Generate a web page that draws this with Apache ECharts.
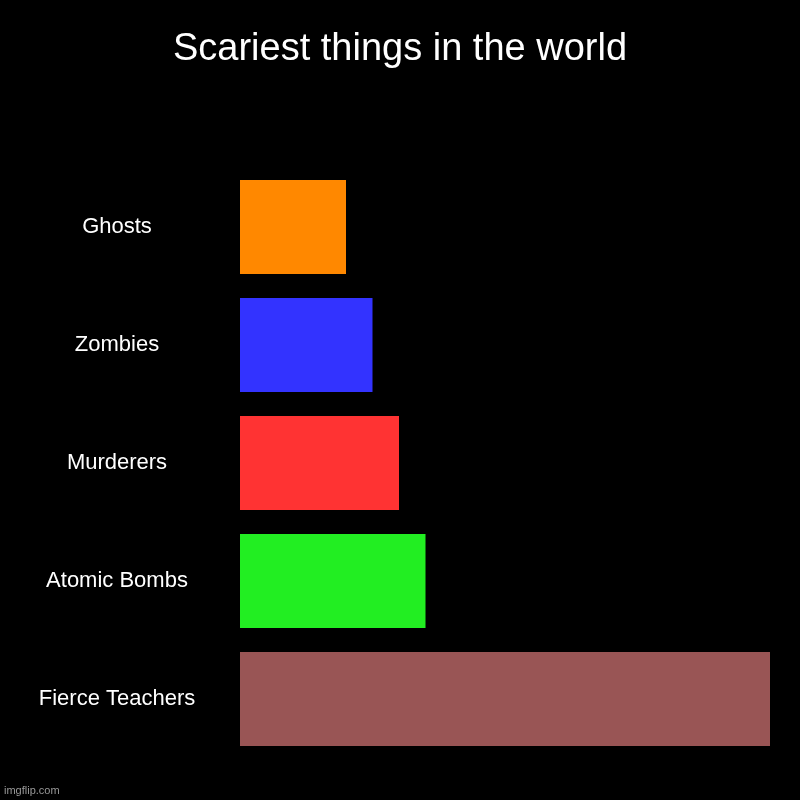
<!DOCTYPE html>
<html><head><meta charset="utf-8">
<script src="https://cdn.jsdelivr.net/npm/echarts@6/dist/echarts.min.js"></script>
<style>html,body{margin:0;padding:0;background:#000}#c{width:800px;height:800px}</style>
</head><body><div id="c"></div>
<script>
const categories = ["Ghosts", "Zombies", "Murderers", "Atomic Bombs", "Fierce Teachers"];
const values = [4, 5, 6, 7, 20];
const colors = ["#FF8800", "#3333FF", "#FF3333", "#22EE22", "#995555"];
const titleText = "Scariest things in the world";

const chart = echarts.init(document.getElementById('c'), null, {renderer: 'canvas'});
chart.setOption({
  backgroundColor: '#000000',
  animation: false,
  title: {
    text: titleText, left: 'center', top: 26, padding: [5, 17, 5, 5],
    textStyle: {color: '#ffffff', fontSize: 38, fontWeight: 'normal', fontFamily: 'Liberation Sans, Arial, sans-serif'}
  },
  graphic: [{
    type: 'text', left: 4, top: 785,
    style: {text: 'imgflip.com', fill: '#999999', font: '11px "Liberation Sans", Arial, sans-serif'}
  }],
  grid: {left: 240, right: 30, top: 168, bottom: 42, containLabel: false},
  xAxis: {type: 'value', min: 0, max: 20, show: false},
  yAxis: {
    type: 'category', data: categories, inverse: true,
    axisLine: {show: false}, axisTick: {show: false}, splitLine: {show: false},
    axisLabel: {
      color: '#ffffff', fontSize: 22, fontFamily: 'Liberation Sans, Arial, sans-serif',
      align: 'center', margin: 123, padding: [8, 0, 0, 0]
    }
  },
  series: [{
    type: 'bar',
    data: values.map((v, i) => ({value: v, itemStyle: {color: colors[i]}})),
    barCategoryGap: '20.3%'
  }]
});
</script></body></html>
